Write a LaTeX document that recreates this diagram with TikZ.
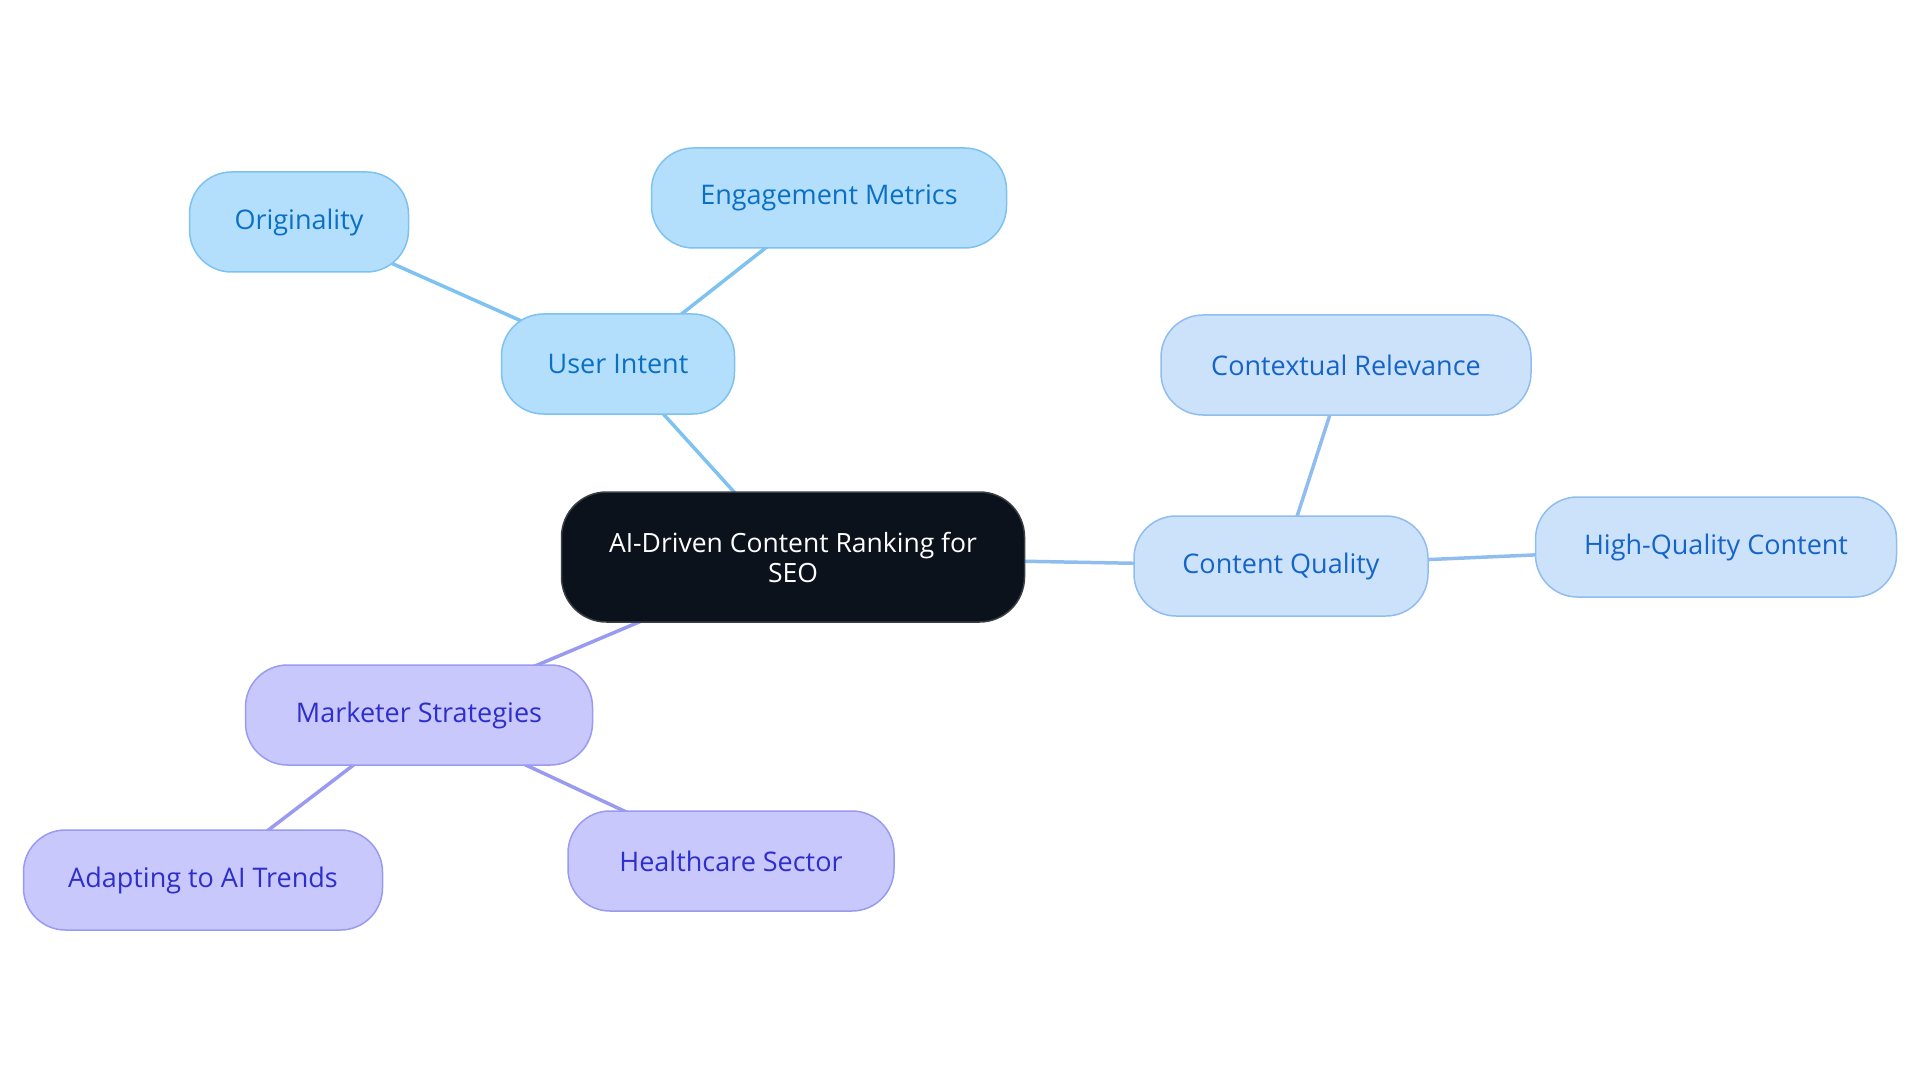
\documentclass[tikz,border=0pt]{standalone}
\usepackage{fontspec}
\setmainfont{Open Sans}
\usetikzlibrary{backgrounds}
\definecolor{cfill}{HTML}{0B121B}
\definecolor{cdraw}{HTML}{3A3F46}
\definecolor{afill}{HTML}{B3DFFD}
\definecolor{adraw}{HTML}{7DC2F0}
\definecolor{atext}{HTML}{0B6FC4}
\definecolor{bfill}{HTML}{CCE2FA}
\definecolor{bdraw}{HTML}{90BDF0}
\definecolor{btext}{HTML}{1565C8}
\definecolor{mfill}{HTML}{C8C8FC}
\definecolor{mdraw}{HTML}{9A9AF0}
\definecolor{mtext}{HTML}{2E2ECC}
\tikzset{
  box/.style={rounded corners=42pt, line width=1.5pt, minimum height=100pt, inner sep=0pt, align=center, font=\fontsize{27}{30}\selectfont},
  abox/.style={box, fill=afill, draw=adraw, text=atext},
  bbox/.style={box, fill=bfill, draw=bdraw, text=btext},
  mbox/.style={box, fill=mfill, draw=mdraw, text=mtext},
  cbox/.style={box, fill=cfill, draw=cdraw, text=white, minimum height=130pt, rounded corners=45pt, font=\fontsize{26.5}{30}\selectfont},
  aedge/.style={draw=adraw, line width=3.5pt},
  bedge/.style={draw=bdraw, line width=3.5pt},
  medge/.style={draw=mdraw, line width=3.5pt},
}
\begin{document}
\begin{tikzpicture}[x=1pt,y=-1pt]
\useasboundingbox (0,0) rectangle (1920,1083);
\node[cbox, minimum width=463pt] (c) at (793,557) {AI-Driven Content Ranking for\\SEO};
\node[abox, minimum width=233pt] (ui) at (618,364) {User Intent};
\node[abox, minimum width=219pt] (or) at (299,222) {Originality};
\node[abox, minimum width=355pt] (em) at (829,198) {Engagement Metrics};
\node[bbox, minimum width=294pt] (cq) at (1281,566) {Content Quality};
\node[bbox, minimum width=370pt] (cr) at (1346,365) {Contextual Relevance};
\node[bbox, minimum width=361pt] (hq) at (1716,547) {High-Quality Content};
\node[mbox, minimum width=347pt] (ms) at (419,715) {Marketer Strategies};
\node[mbox, minimum width=359pt] (at) at (203,880) {Adapting to AI Trends};
\node[mbox, minimum width=326pt] (hs) at (731,861) {Healthcare Sector};
\begin{scope}[on background layer]
\path[aedge] (c.center) -- (ui.center);
\path[aedge] (ui.center) -- (or.center);
\path[aedge] (ui.center) -- (em.center);
\path[bedge] (c.center) -- (cq.center);
\path[bedge] (cq.center) -- (cr.center);
\path[bedge] (cq.center) -- (hq.center);
\path[medge] (c.center) -- (ms.center);
\path[medge] (ms.center) -- (at.center);
\path[medge] (ms.center) -- (hs.center);
\end{scope}
\end{tikzpicture}
\end{document}
